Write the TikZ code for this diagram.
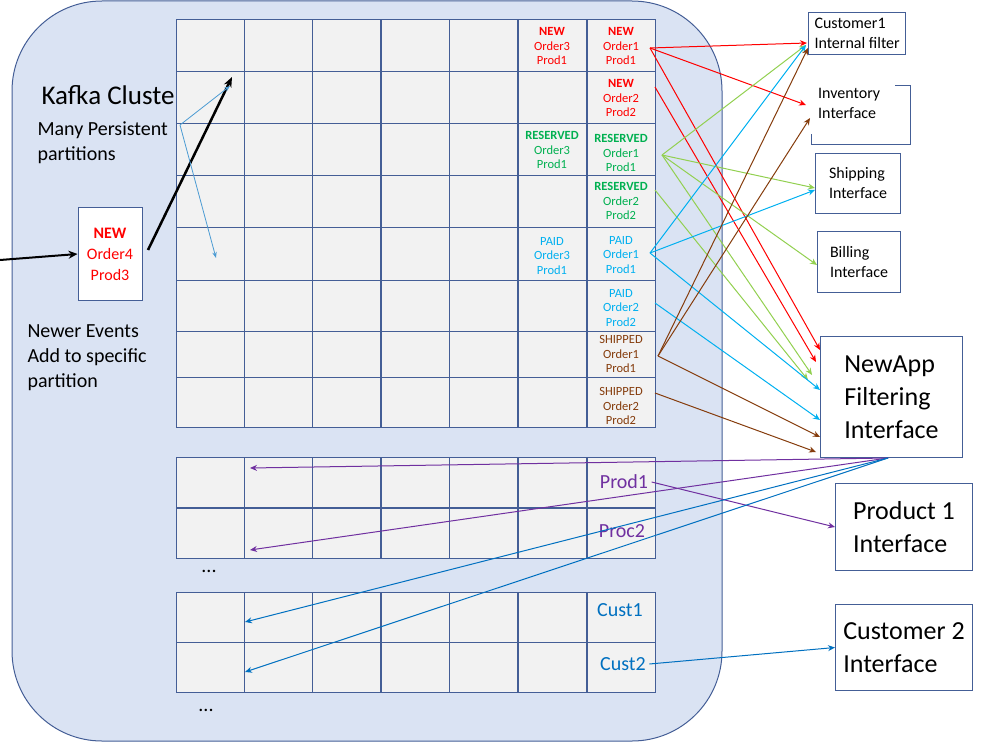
\documentclass[tikz,border=0pt]{standalone}
\usepackage{fontspec}
\setmainfont{Carlito}
\usepackage{tikz}
\usetikzlibrary{arrows.meta}
\definecolor{clusterfill}{RGB}{218,227,243}
\definecolor{clusterline}{RGB}{68,94,150}
\definecolor{cellfill}{RGB}{242,242,242}
\definecolor{cred}{RGB}{255,0,0}
\definecolor{cgreen}{RGB}{146,208,80}
\definecolor{cgreentxt}{RGB}{0,176,80}
\definecolor{cblue}{RGB}{0,176,240}
\definecolor{cbrown}{RGB}{133,60,12}
\definecolor{cpurple}{RGB}{112,48,160}
\definecolor{cdblue}{RGB}{0,112,192}
\begin{document}
\begin{tikzpicture}[x=1pt,y=-1pt,
  cell/.style={draw=clusterline,fill=cellfill,line width=1pt},
  ibox/.style={draw=clusterline,line width=1pt,fill=white,align=left,inner sep=8pt},
  evt/.style={align=center,font=\fontsize{12.5}{14.5}\selectfont},
  conn/.style={line width=1pt,-{Stealth[length=7pt,width=6pt]}}]
\useasboundingbox (0,0) rectangle (992,743);
% cluster
\draw[clusterline,fill=clusterfill,line width=1pt,rounded corners=90pt] (12,1) rectangle (722,741);
\node[anchor=west,font=\fontsize{27}{30}\selectfont] (title) at (38,95) {Kafka Cluster};
\node[anchor=north west,align=left,font=\fontsize{20}{25}\selectfont] (persist) at (34,118) {Many Persistent\\partitions};
\node[anchor=north west,align=left,font=\fontsize{20}{25}\selectfont] (newer) at (24,321) {Newer Events\\Add to specific\\partition};
% topic grid
\foreach \y/\h in {20/52,72/52,124/52,176/52,228/52,280/51,331/46,377/50}
  \foreach \x in {176,244,312,381,449,518,587}
    \draw[cell] (\x,\y) rectangle ++(68,\h);
\foreach \y in {457,508,592,642}
  \foreach \x in {176,244,312,381,449,518,587}
    \draw[cell] (\x,\y) rectangle ++(68,50);
\node[font=\fontsize{20}{24}\selectfont] (dots1) at (209,571) {...};
\node[font=\fontsize{20}{24}\selectfont] (dots2) at (206,710) {...};
% events
\node[evt,text=cred] (n31) at (552,46) {\textbf{NEW}\\Order3\\Prod1};
\node[evt,text=cred] (n11) at (621,46) {\textbf{NEW}\\Order1\\Prod1};
\node[evt,text=cred] (n22) at (621,98) {\textbf{NEW}\\Order2\\Prod2};
\node[evt,text=cgreentxt] (r31) at (552,150) {\textbf{RESERVED}\\Order3\\Prod1};
\node[evt,text=cgreentxt] (r11) at (621,153) {\textbf{RESERVED}\\Order1\\Prod1};
\node[evt,text=cgreentxt] (r22) at (621,201) {\textbf{RESERVED}\\Order2\\Prod2};
\node[evt,text=cblue] (p31) at (552,256) {PAID\\Order3\\Prod1};
\node[evt,text=cblue] (p11) at (621,255) {PAID\\Order1\\Prod1};
\node[evt,text=cblue] (p22) at (621,308) {PAID\\Order2\\Prod2};
\node[evt,text=cbrown] (s11) at (621,354) {SHIPPED\\Order1\\Prod1};
\node[evt,text=cbrown] (s22) at (621,406) {SHIPPED\\Order2\\Prod2};
\node[font=\fontsize{20}{24}\selectfont,text=cpurple] (prod1) at (624,482) {Prod1};
\node[font=\fontsize{20}{24}\selectfont,text=cpurple] (proc2) at (622,531) {Proc2};
\node[font=\fontsize{20}{24}\selectfont,text=cdblue] (cust1) at (620,610) {Cust1};
\node[font=\fontsize{20}{24}\selectfont,text=cdblue] (cust2) at (623,664) {Cust2};
% incoming event
\node[draw=clusterline,fill=white,line width=1pt,minimum width=64pt,minimum height=92pt,align=center,
  font=\fontsize{16}{21}\selectfont,text=cred] (newev) at (110,254) {\textbf{NEW}\\Order4\\Prod3};
\coordinate (src) at (0,260);
\draw[line width=2pt,-{Stealth[length=9pt,width=8pt]}] (src) -- (newev.west);
\coordinate (gstart) at (148,250);
\coordinate (gend) at (232,77);
\draw[line width=2.5pt,-{Stealth[length=10pt,width=8pt]}] (gstart) -- (gend);
\coordinate (fork) at (180,125);
\coordinate (fka) at (230,86);
\coordinate (fkb) at (216,258);
\draw[cdblue!70,line width=0.8pt,-{Stealth[length=6pt]}] (fork) -- (fka);
\draw[cdblue!70,line width=0.8pt,-{Stealth[length=6pt]}] (fork) -- (fkb);
% interfaces
\node[ibox,anchor=north west,inner sep=6pt,font=\fontsize{16}{20}\selectfont] (cust1if) at (808,12) {Customer1\\Internal filter};
\node[align=left,anchor=north west,inner sep=6pt,font=\fontsize{16}{20}\selectfont] (invif) at (812,82) {Inventory\\Interface};
\draw[clusterline,line width=1pt] (895,86) -- (910,86) -- (910,145) -- (811,145) -- (811,134);
\node[ibox,anchor=north west,inner sep=6pt,minimum width=85pt,minimum height=60pt,font=\fontsize{16}{20}\selectfont] (shipif) at (815,153) {Shipping\\Interface};
\node[ibox,anchor=north west,inner sep=6pt,minimum width=83pt,minimum height=61pt,font=\fontsize{16}{20}\selectfont] (billif) at (817,231) {Billing\\Interface};
\node[ibox,anchor=north west,minimum width=142pt,minimum height=121pt,font=\fontsize{26}{33}\selectfont] (newapp) at (820,336) {NewApp\\Filtering\\Interface};
\node[ibox,anchor=north west,minimum width=137pt,minimum height=87pt,font=\fontsize{26}{33}\selectfont] (prodif) at (835,483) {Product 1\\Interface};
\node[ibox,anchor=north west,inner sep=6pt,minimum width=137pt,minimum height=86pt,font=\fontsize{26}{33}\selectfont] (cust2if) at (835,604) {Customer 2\\Interface};
% source and target points
\coordinate (a1) at (650,48); \coordinate (a2) at (655,87);
\coordinate (b1) at (662,155); \coordinate (b2) at (655,190);
\coordinate (c1) at (650,253); \coordinate (c2) at (655,303);
\coordinate (d1) at (658,356); \coordinate (d2) at (655,393);
\coordinate (fan) at (888,458);
\path[conn]
  (a1) edge[cred] (807,43) edge[cred] (806,105) edge[cred] (820,350)
  (a2) edge[cred] (816,362)
  (b1) edge[cgreen] (806,45) edge[cgreen] (815,188) edge[cgreen] (817,265) edge[cgreen] (812,375)
  (b2) edge[cgreen] (808,380)
  (c1) edge[cblue] (806,45) edge[cblue] (815,190) edge[cblue] (820,390)
  (c2) edge[cblue] (820,420)
  (d1) edge[cbrown] (808,48) edge[cbrown] (810,118) edge[cbrown] (820,437)
  (d2) edge[cbrown] (816,452)
  (fan) edge[cpurple] (250,468) edge[cpurple] (250,550)
  (prod1.east) edge[cpurple] (prodif.west)
  (fan) edge[cdblue] (245,622) edge[cdblue] (245,672)
  (cust2.east) edge[cdblue] (cust2if.west);
\end{tikzpicture}
\end{document}
